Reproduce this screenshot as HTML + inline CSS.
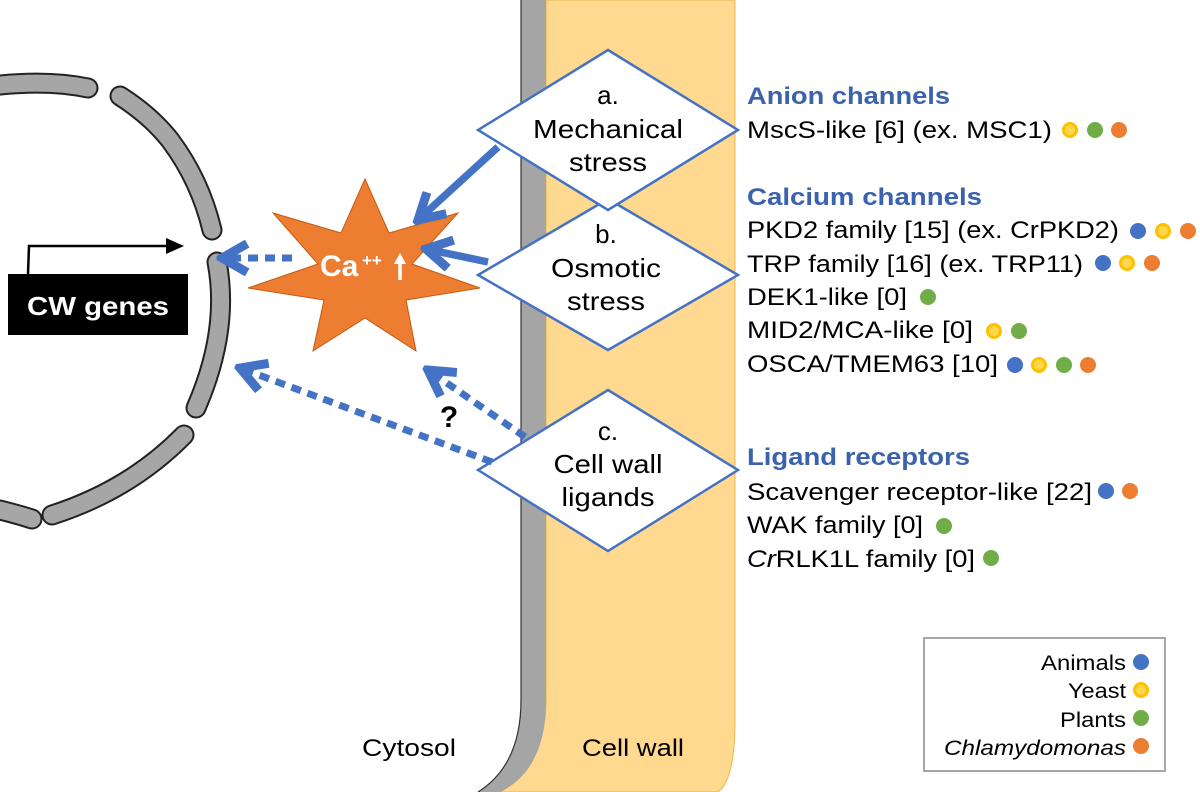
<!DOCTYPE html>
<html><head><meta charset="utf-8"><style>
html,body{margin:0;padding:0;background:#fff;}
svg{display:block;font-family:"Liberation Sans",Arial,sans-serif;}
</style></head><body>
<svg width="1200" height="792" viewBox="0 0 1200 792" xmlns="http://www.w3.org/2000/svg">
<defs>
<marker id="ah" viewBox="0 0 20 20" refX="17" refY="10" markerWidth="36" markerHeight="36" markerUnits="userSpaceOnUse" orient="auto">
<path d="M3,2 L17,10 L3,18" fill="none" stroke="#4472c4" stroke-width="5" stroke-linecap="butt"/>
</marker>
</defs>
<path d="M546,0 L735,0 L735,720 Q735,780 718,792 L500,792 Q546,765 546,700 Z" fill="#fed98f" stroke="#e8b84a" stroke-width="1"/>
<path d="M521,0 L546,0 L546,700 Q546,770 500,792 L478,792 Q521,765 521,700 Z" fill="#a5a5a5"/>
<path d="M521,0 L521,700 Q521,765 478,792" fill="none" stroke="#333" stroke-width="1.2"/>
<g fill="none" stroke-linecap="round">
<g stroke="#222" stroke-width="21">
<path d="M0,85 Q50,80 88,88"/>
<path d="M120,96 Q150,115 170,140 Q200,180 212,230"/>
<path d="M217,262 Q230,330 196,408"/>
<path d="M184,435 Q130,490 52,515"/>
<path d="M0,510 Q20,515 32,519"/>
</g>
<g stroke="#a6a6a6" stroke-width="17">
<path d="M0,85 Q50,80 88,88"/>
<path d="M120,96 Q150,115 170,140 Q200,180 212,230"/>
<path d="M217,262 Q230,330 196,408"/>
<path d="M184,435 Q130,490 52,515"/>
<path d="M0,510 Q20,515 32,519"/>
</g>
</g>
<rect x="8" y="274" width="180" height="61" fill="#000"/>
<text x="27" y="315" fill="#fff" font-size="26" font-weight="bold" textLength="142" lengthAdjust="spacingAndGlyphs">CW genes</text>
<path d="M28,274 L29,246 L172,246" fill="none" stroke="#000" stroke-width="2.5"/>
<path d="M166,238 L184,246 L166,254 Z" fill="#000"/>
<polygon points="365,179 389,233 458,213 412,264 480,288 406,300 416,351 365,318 313,351 324,300 248,288 318,264 273,213 341,233" fill="#ed7d31" stroke="#c55a11" stroke-width="1"/>
<text x="320" y="276" fill="#fff" font-size="30" font-weight="bold">Ca</text>
<text x="362" y="266" fill="#fff" font-size="17" font-weight="bold">++</text>
<path d="M400,280 L400,262" stroke="#fff" stroke-width="3.5"/>
<path d="M394,264 L400,253 L406,264 Z" fill="#fff"/>
<polygon points="608,390 738,470 608,551 478,470" fill="#fff" stroke="#4472c4" stroke-width="2.5"/>
<polygon points="608,199 738,275 608,350 478,275" fill="#fff" stroke="#4472c4" stroke-width="2.5"/>
<polygon points="608,50 738,130 608,210 478,130" fill="#fff" stroke="#4472c4" stroke-width="2.5"/>
<g font-size="26" text-anchor="middle" fill="#000">
<text x="608" y="104">a.</text><text x="608" y="138" textLength="150" lengthAdjust="spacingAndGlyphs">Mechanical</text><text x="608" y="171" textLength="78" lengthAdjust="spacingAndGlyphs">stress</text>
<text x="606" y="243">b.</text><text x="606" y="277" textLength="110" lengthAdjust="spacingAndGlyphs">Osmotic</text><text x="606" y="310" textLength="78" lengthAdjust="spacingAndGlyphs">stress</text>
<text x="608" y="440">c.</text><text x="608" y="473" textLength="109" lengthAdjust="spacingAndGlyphs">Cell wall</text><text x="608" y="506" textLength="93" lengthAdjust="spacingAndGlyphs">ligands</text>
</g>
<g fill="none" stroke="#4472c4">
<line x1="498" y1="147" x2="418" y2="220" stroke-width="7.5" marker-end="url(#ah)"/>
<line x1="488" y1="262" x2="426" y2="249" stroke-width="7.5" marker-end="url(#ah)"/>
<line x1="292" y1="258" x2="222" y2="258" stroke-width="7" stroke-dasharray="10,7" marker-end="url(#ah)"/>
<line x1="525" y1="437" x2="428" y2="370" stroke-width="7" stroke-dasharray="10,7" marker-end="url(#ah)"/>
<line x1="492" y1="462" x2="240" y2="368" stroke-width="7" stroke-dasharray="10,7" marker-end="url(#ah)"/>
</g>
<text x="449" y="427" font-size="30" font-weight="bold" text-anchor="middle">?</text>
<text x="362" y="756" font-size="24" textLength="94" lengthAdjust="spacingAndGlyphs">Cytosol</text>
<text x="582" y="756" font-size="24" textLength="102" lengthAdjust="spacingAndGlyphs">Cell wall</text>
<g font-size="24" fill="#000">
<text x="747" y="104" fill="#3a62ad" font-weight="bold" textLength="203" lengthAdjust="spacingAndGlyphs">Anion channels</text>
<text x="747" y="138" textLength="305" lengthAdjust="spacingAndGlyphs">MscS-like [6] (ex. MSC1)</text>
<text x="747" y="205" fill="#3a62ad" font-weight="bold" textLength="235" lengthAdjust="spacingAndGlyphs">Calcium channels</text>
<text x="747" y="238" textLength="372" lengthAdjust="spacingAndGlyphs">PKD2 family [15] (ex. CrPKD2)</text>
<text x="747" y="272" textLength="336" lengthAdjust="spacingAndGlyphs">TRP family [16] (ex. TRP11)</text>
<text x="747" y="305" textLength="160" lengthAdjust="spacingAndGlyphs">DEK1-like [0]</text>
<text x="747" y="338" textLength="226" lengthAdjust="spacingAndGlyphs">MID2/MCA-like [0]</text>
<text x="747" y="372" textLength="251" lengthAdjust="spacingAndGlyphs">OSCA/TMEM63 [10]</text>
<text x="747" y="465" fill="#3a62ad" font-weight="bold" textLength="223" lengthAdjust="spacingAndGlyphs">Ligand receptors</text>
<text x="747" y="500" textLength="345" lengthAdjust="spacingAndGlyphs">Scavenger receptor-like [22]</text>
<text x="747" y="533" textLength="176" lengthAdjust="spacingAndGlyphs">WAK family [0]</text>
<text x="747" y="567" textLength="228" lengthAdjust="spacingAndGlyphs"><tspan font-style="italic">Cr</tspan>RLK1L family [0]</text>
</g>
<g>
<g fill="#4472c4">
<circle cx="1138" cy="231" r="8"/><circle cx="1103" cy="263" r="8"/><circle cx="1015" cy="365" r="8"/><circle cx="1106" cy="491" r="8"/><circle cx="1141" cy="662" r="8"/>
</g>
<g fill="#ffd84a" stroke="#ffc000" stroke-width="3">
<circle cx="1070" cy="130" r="6.5"/><circle cx="1163" cy="231" r="6.5"/><circle cx="1127" cy="263" r="6.5"/><circle cx="994" cy="331" r="6.5"/><circle cx="1039" cy="365" r="6.5"/><circle cx="1141" cy="690" r="6.5"/>
</g>
<g fill="#70ad47">
<circle cx="1095" cy="130" r="8"/><circle cx="928" cy="297" r="8"/><circle cx="1019" cy="331" r="8"/><circle cx="1064" cy="365" r="8"/><circle cx="944" cy="526" r="8"/><circle cx="991" cy="558" r="8"/><circle cx="1141" cy="718" r="8"/>
</g>
<g fill="#ed7d31">
<circle cx="1119" cy="130" r="8"/><circle cx="1188" cy="231" r="8"/><circle cx="1152" cy="263" r="8"/><circle cx="1088" cy="365" r="8"/><circle cx="1130" cy="491" r="8"/><circle cx="1141" cy="746" r="8"/>
</g>
</g>
<rect x="924" y="638" width="241" height="133" fill="none" stroke="#a6a6a6" stroke-width="2"/>
<g font-size="21">
<text x="1041" y="670" textLength="85" lengthAdjust="spacingAndGlyphs">Animals</text>
<text x="1068" y="698" textLength="58" lengthAdjust="spacingAndGlyphs">Yeast</text>
<text x="1060" y="727" textLength="66" lengthAdjust="spacingAndGlyphs">Plants</text>
<text x="944" y="755" font-style="italic" textLength="182" lengthAdjust="spacingAndGlyphs">Chlamydomonas</text>
</g>
</svg>
</body></html>
